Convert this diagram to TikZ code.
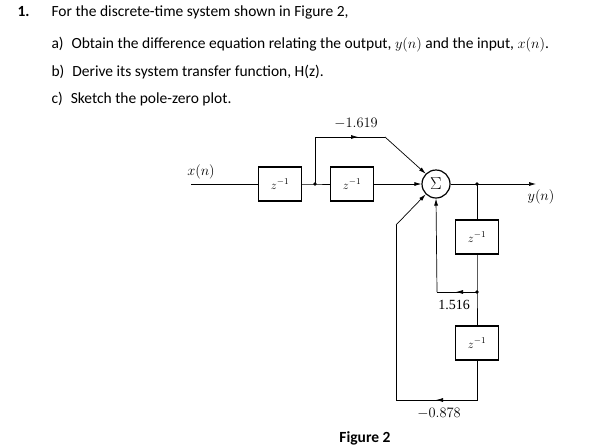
\documentclass[tikz,border=0pt]{standalone}
\usepackage{fontspec}
\setmainfont{Carlito}
\newfontfamily\diag{Liberation Serif}
\usetikzlibrary{arrows.meta}
\begin{document}
\begin{tikzpicture}[x=1pt,y=-1pt,
  dbox/.style={draw,line width=1.2pt,minimum width=43pt,minimum height=34pt,inner sep=0pt,font=\diag\fontsize{13}{15}\selectfont},
  wire/.style={line width=0.7pt},
  arr/.style={wire,-{Latex[length=7pt,width=4pt]}},
  lbl/.style={font=\diag\fontsize{14}{16}\selectfont},
  txt/.style={anchor=west,font=\fontsize{15.5}{17}\selectfont}]
\useasboundingbox (0,0) rectangle (616,445);
\node[txt,font=\bfseries\fontsize{15.5}{17}\selectfont] (n1) at (14,12) {1.};
\node[txt] (t0) at (48,12) {For the discrete-time system shown in Figure 2,};
\node[txt] (ta) at (48,45) {a)\hspace{8pt}Obtain the difference equation relating the output, $y(n)$ and the input, $x(n)$.};
\node[txt] (tb) at (48,72) {b)\hspace{8pt}Derive its system transfer function, H(z).};
\node[txt] (tc) at (48,99) {c)\hspace{8pt}Sketch the pole-zero plot.};

\node[dbox] (d1) at (280,184) {$z^{-1}$};
\node[dbox] (d2) at (352,184) {$z^{-1}$};
\node[draw,circle,line width=1.2pt,minimum size=28pt,inner sep=0pt,font=\fontsize{16}{18}\selectfont] (s) at (436,184) {$\Sigma$};
\node[dbox] (d3) at (477,237) {$z^{-1}$};
\node[dbox] (d4) at (477,343) {$z^{-1}$};
\coordinate (xin) at (191,184);
\coordinate (j1) at (315,184);
\coordinate (t1) at (315,137);
\coordinate (t2) at (385,137);
\coordinate (jo) at (477,184);
\coordinate (yo) at (536,184);
\coordinate (j2) at (477,292);
\coordinate (b1) at (437,292);
\coordinate (c1) at (477,400);
\coordinate (c2) at (396,400);
\coordinate (c3) at (396,225);

\draw[wire] (xin) -- (d1.west);
\draw[wire] (d1.east) -- (j1) -- (d2.west);
\fill (j1) circle (1.8pt);
\draw[wire] (j1) -- (t1) -- (t2);
\draw[arr] (t1) -- (358,137);
\draw[arr] (t2) -- (s.135);
\draw[arr] (d2.east) -- (s.west);
\draw[arr] (s.east) -- (yo);
\fill (jo) circle (1.8pt);
\draw[wire] (jo) -- (d3.north);
\draw[wire] (d3.south) -- (j2) -- (d4.north);
\fill (j2) circle (1.8pt);
\draw[wire] (j2) -- (b1);
\draw[arr] (j2) -- (456,292);
\draw[arr] (b1) -- (s.south);
\draw[wire] (d4.south) -- (c1) -- (c2) -- (c3);
\draw[arr] (c1) -- (436,400);
\draw[arr] (c3) -- (s.225);

\node[lbl] (lx) at (201,172) {$x(n)$};
\node[lbl] (ly) at (541,197) {$y(n)$};
\node[lbl] (l1) at (356,123) {$-1.619$};
\node[lbl] (l2) at (454,305) {1.516};
\node[lbl] (l3) at (439,413) {$-0.878$};
\node[font=\bfseries\fontsize{15.5}{17}\selectfont] (fig) at (365,438) {Figure 2};
\end{tikzpicture}
\end{document}
